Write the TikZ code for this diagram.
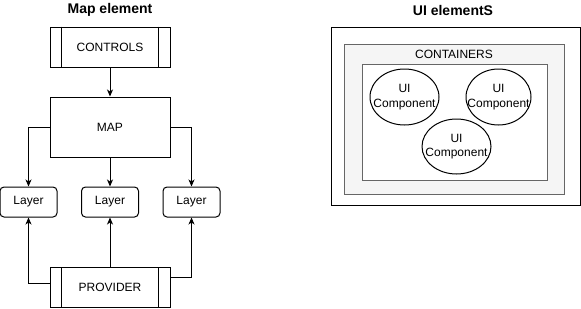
\documentclass[tikz,border=0pt]{standalone}
\usepackage{fontspec}
\setmainfont{Liberation Sans}
\usetikzlibrary{arrows.meta,shapes.geometric}
\begin{document}
\begin{tikzpicture}[x=1pt,y=-1pt,
  every node/.style={font=\fontsize{12}{14}\selectfont, inner sep=0pt},
  title/.style={font=\fontsize{14}{16}\selectfont\bfseries},
  procbox/.style={draw, line width=1pt, minimum width=120pt, minimum height=40pt},
  mapbox/.style={draw, line width=1pt, minimum width=120pt, minimum height=60pt},
  layerbox/.style={draw, line width=1pt, rounded corners=4pt, minimum width=57pt, minimum height=30pt},
  comp/.style={draw, line width=1pt, ellipse, inner sep=0pt},
  comptext/.style={align=center, font=\fontsize{12}{14.5}\selectfont},
  conn/.style={line width=1pt, -{Stealth[length=7pt,width=6pt,inset=2pt]}}
]
\useasboundingbox (0,0) rectangle (581,308);
% titles
\node[title] (t1) at (110,10) {Map element};
\node[title] (t2) at (453,10) {UI elementS};
% controls
\node[procbox] (controls) at (110,47) {CONTROLS};
\draw[line width=1pt] ([xshift=12pt]controls.north west) -- ([xshift=12pt]controls.south west);
\draw[line width=1pt] ([xshift=-12pt]controls.north east) -- ([xshift=-12pt]controls.south east);
% map
\node[mapbox] (map) at (110,127) {MAP};
% layers
\node[layerbox] (l1) at (28.5,202) {Layer};
\node[layerbox] (l2) at (110,202) {Layer};
\node[layerbox] (l3) at (191.5,202) {Layer};
% provider
\node[procbox] (prov) at (110,287.5) {PROVIDER};
\draw[line width=1pt] ([xshift=12pt]prov.north west) -- ([xshift=12pt]prov.south west);
\draw[line width=1pt] ([xshift=-12pt]prov.north east) -- ([xshift=-12pt]prov.south east);
% connectors
\draw[conn] (controls) -- (map);
\draw[conn] (map.west) -| (l1.north);
\draw[conn] (map) -- (l2);
\draw[conn] (map.east) -| (l3.north);
\draw[conn] ([yshift=4.5pt]prov.west) -| (l1.south);
\draw[conn] (prov) -- (l2);
\draw[conn] ([yshift=10pt]prov.east) -| (l3.south);
% UI elements
\draw[line width=1pt] (331,27) rectangle (580,205);
\draw[line width=1pt, draw={rgb,255:red,102;green,102;blue,102}, fill={rgb,255:red,245;green,245;blue,245}] (344,44) rectangle (564,194);
\node (cont) at (454,54) {CONTAINERS};
\draw[line width=1pt, draw={rgb,255:red,102;green,102;blue,102}, fill=white] (362,64) rectangle (547,180);
\node[comp, minimum width=69pt, minimum height=56pt] (c1) at (404.5,97) {};
\node[comp, minimum width=65pt, minimum height=56pt] (c2) at (498.5,97) {};
\node[comp, minimum width=69pt, minimum height=55pt] (c3) at (456.5,146.5) {};
\node[comptext] (c1t) at (c1) {UI\\Component};
\node[comptext] (c2t) at (c2) {UI\\Component};
\node[comptext] (c3t) at (c3) {UI\\Component};
\end{tikzpicture}
\end{document}
